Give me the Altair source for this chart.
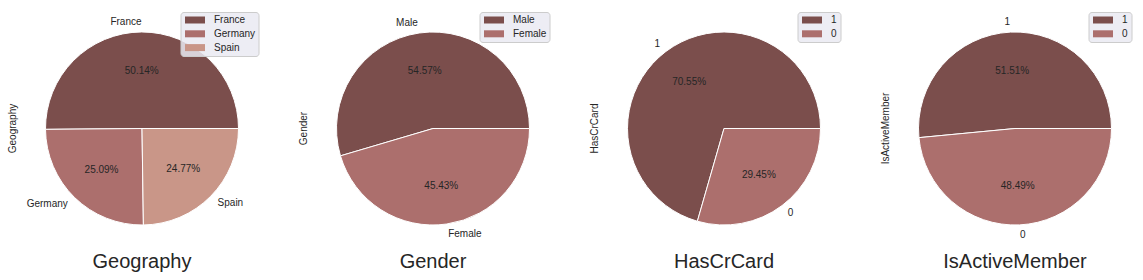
import math
import altair as alt
import pandas as pd

# ---- data (counts, 10000 customers) ----
geo_cats = ["France", "Germany", "Spain"]
geo_counts = [5014, 2509, 2477]
gender_cats = ["Male", "Female"]
gender_counts = [5457, 4543]
card_cats = ["1", "0"]
card_counts = [7055, 2945]
active_cats = ["1", "0"]
active_counts = [5151, 4849]
panel_names = ["Geography", "Gender", "HasCrCard", "IsActiveMember"]

colors = ["#7B4E4C", "#AC6F6D", "#C99688"]
FONT = "Liberation Sans"
TXT = "#262626"
W = 243
H = 243
R = 96.5

# matplotlib pie: start at 3 o'clock, counter-clockwise
tscale = alt.Scale(domain=[0, 1], range=[math.pi / 2, math.pi / 2 - 2 * math.pi])

rect_path = "M-2.857,-1L2.857,-1L2.857,1L-2.857,1Z"


def panel(cats, counts, name):
    df = pd.DataFrame({"cat": cats, "count": counts, "idx": list(range(len(cats)))})
    base = (
        alt.Chart(df)
        .transform_joinaggregate(total="sum(count)")
        .transform_calculate(frac="datum.count / datum.total")
        .transform_window(cum="sum(frac)", sort=[alt.SortField("idx", order="ascending")])
        .transform_calculate(
            mid="datum.cum - datum.frac / 2",
            side="cos(2 * PI * (datum.cum - datum.frac / 2)) > 0",
            pct="format(datum.frac * 100, '.2f') + '%'",
        )
    )
    arcs = base.mark_arc(outerRadius=R, stroke="white", strokeWidth=1).encode(
        theta=alt.Theta("frac:Q", stack=True, scale=tscale),
        color=alt.Color(
            "cat:N",
            title=None,
            scale=alt.Scale(domain=cats, range=colors[: len(cats)]),
            legend=alt.Legend(
                orient="top-right",
                offset=5,
                padding=3,
                fillColor="rgba(234,234,242,0.85)",
                strokeColor="#CCCCCC",
                cornerRadius=3,
                symbolType=rect_path,
                symbolSize=49,
                symbolStrokeWidth=0,
                symbolOffset=6.5,
                labelOffset=14,
                labelFont=FONT,
                labelFontSize=10,
                labelColor=TXT,
                rowPadding=3.8,
            ),
        ),
        order=alt.Order("idx:Q"),
    )
    pct = base.mark_text(radius=R * 0.6, font=FONT, fontSize=10, color=TXT, baseline="middle").encode(
        theta=alt.Theta("mid:Q", stack=False, scale=tscale),
        text="pct:N",
    )
    lab_l = base.transform_filter("datum.side").mark_text(
        radius=R * 1.1, align="left", baseline="middle", font=FONT, fontSize=10, color=TXT
    ).encode(theta=alt.Theta("mid:Q", stack=False, scale=tscale), text="cat:N")
    lab_r = base.transform_filter("!datum.side").mark_text(
        radius=R * 1.1, align="right", baseline="middle", font=FONT, fontSize=10, color=TXT
    ).encode(theta=alt.Theta("mid:Q", stack=False, scale=tscale), text="cat:N")
    ylab = alt.Chart(pd.DataFrame({"t": [name]})).mark_text(
        angle=270, align="center", baseline="middle", font=FONT, fontSize=10, color=TXT
    ).encode(text="t:N", x=alt.value(-7.5), y=alt.value(H / 2))
    return alt.layer(arcs, pct, lab_l, lab_r, ylab).properties(
        width=W,
        height=H,
        title=alt.TitleParams(
            name, orient="bottom", anchor="middle", frame="group", offset=1.5,
            font=FONT, fontSize=20, fontWeight="normal", color=TXT,
        ),
    )


chart = (
    alt.hconcat(
        panel(geo_cats, geo_counts, panel_names[0]),
        panel(gender_cats, gender_counts, panel_names[1]),
        panel(card_cats, card_counts, panel_names[2]),
        panel(active_cats, active_counts, panel_names[3]),
        spacing=48,
        bounds="flush",
    )
    .resolve_scale(color="independent")
    .resolve_legend(color="independent")
    .properties(padding={"left": 7.5, "top": 7, "right": 0, "bottom": 0}, background="white")
    .configure_view(strokeWidth=0, fill="white")
)

chart.save("out.html", embed_options={"renderer": "svg", "actions": False})
